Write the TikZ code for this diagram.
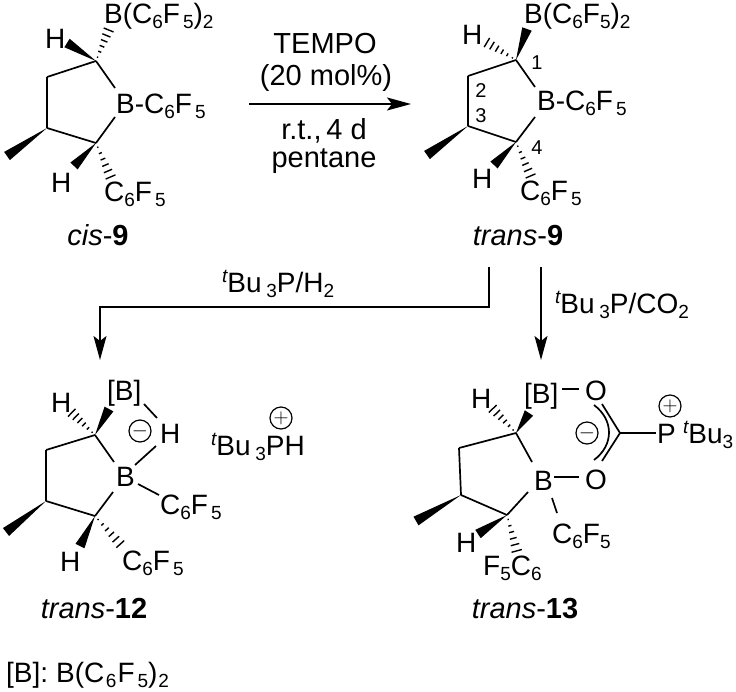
\documentclass[tikz,border=0pt]{standalone}
\usepackage{fontspec}
\setmainfont{Liberation Sans}
\usetikzlibrary{arrows.meta}
\usetikzlibrary{calc}

\newcommand{\lowtxt}[1]{\raisebox{-5.5pt}{\fontsize{19}{19}\selectfont #1}}
\newcommand{\Cpf}{C\lowtxt{6}F\kern3pt\lowtxt{5}}
\newcommand{\tBu}{\raisebox{10pt}{\fontsize{19}{19}\selectfont\itshape t}Bu}
\newcommand{\wedgebond}[2]{\fill (#1) -- ($(#2)!5pt!90:(#1)$) -- ($(#2)!5pt!-90:(#1)$) -- cycle;}
\newcommand{\hashbond}[2]{\foreach \t [evaluate=\t as \w using \t*5.5] in {0.12,0.29,0.46,0.63,0.8,0.97}
	{\draw[hash] ($(#1)!\t!(#2)!\w pt!90:(#2)$) -- ($(#1)!\t!(#2)!\w pt!-90:(#2)$);}}

\begin{document}
\begin{tikzpicture}[x=1pt,y=-1pt,
		bond/.style={line width=1.7pt},
		hash/.style={line width=1.4pt},
		rxn/.style={line width=1.7pt,-{Stealth[length=24pt,width=13pt,inset=5pt]}},
		lab/.style={anchor=base west,inner sep=0pt,font=\fontsize{28}{28}\selectfont},
		mid/.style={anchor=base,inner sep=0pt,font=\fontsize{29}{29}\selectfont},
		num/.style={inner sep=0pt,font=\fontsize{20}{20}\selectfont},
		charge/.style={circle,draw,line width=1.2pt,minimum size=22pt,inner sep=0pt,font=\fontsize{20}{20}\selectfont}]
	\useasboundingbox (0,0) rectangle (736,691);

	% cis-9
	\coordinate (A1) at (96,61);
	\coordinate (A2) at (47,77);
	\coordinate (A3) at (47,128);
	\coordinate (A4) at (96,143);
	\coordinate (Ab1) at (115,88);
	\coordinate (Ab2) at (115,117);
	\coordinate (Ah1) at (67,43);
	\coordinate (Ah2) at (74,166);
	\coordinate (Ame) at (7,156);
	\coordinate (Ax1) at (109,29);
	\coordinate (Ax2) at (111,178);

	% trans-9
	\coordinate (B1) at (516,60);
	\coordinate (B2) at (468,76);
	\coordinate (B3) at (468,126);
	\coordinate (B4) at (516,142);
	\coordinate (Bb1) at (535,87);
	\coordinate (Bb2) at (535,117);
	\coordinate (Bh1) at (486,42);
	\coordinate (Bh2) at (494,165);
	\coordinate (Bme) at (427,155);
	\coordinate (Bx1) at (527,29);
	\coordinate (Bx2) at (531,177);

	% trans-12
	\coordinate (C1) at (95,435);
	\coordinate (C2) at (46,450);
	\coordinate (C3) at (46,501);
	\coordinate (C4) at (95,516);
	\coordinate (Cb1) at (114,462);
	\coordinate (Cb2) at (113,492);
	\coordinate (Cb3) at (135,465);
	\coordinate (Cb4) at (156,446);
	\coordinate (Cb5) at (138,484);
	\coordinate (Cb6) at (159,495);
	\coordinate (Cb7) at (144,404);
	\coordinate (Cb8) at (157,418);
	\coordinate (Ch1) at (71,412);
	\coordinate (Ch2) at (80,546);
	\coordinate (Cme) at (6,532);
	\coordinate (Cx1) at (109,409);
	\coordinate (Cx2) at (121,545);

	% trans-13
	\coordinate (D1) at (516,433);
	\coordinate (D2) at (459,448);
	\coordinate (D3) at (461,495);
	\coordinate (D4) at (507,515);
	\coordinate (Db1) at (532,462);
	\coordinate (Db2) at (528,492);
	\coordinate (Db3) at (554,477);
	\coordinate (Db4) at (579,477);
	\coordinate (Db5) at (552,498);
	\coordinate (Db6) at (557,513);
	\coordinate (Db7) at (562,389);
	\coordinate (Db8) at (579,389);
	\coordinate (Dc) at (620,433);
	\coordinate (Do1) at (602,404);
	\coordinate (Do2) at (602,461);
	\coordinate (Dp) at (656,433);
	\coordinate (Da1) at (594,405);
	\coordinate (Da2) at (594,460);
	\coordinate (Dm1) at (614,420);
	\coordinate (Dm2) at (614,445);
	\coordinate (Dh1) at (492,408);
	\coordinate (Dh2) at (478,534);
	\coordinate (Dme) at (416,521);
	\coordinate (Dx1) at (529,413);
	\coordinate (Dx2) at (517,552);

	% arrows
	\coordinate (R1) at (249,104);
	\coordinate (R2) at (411,104);
	\coordinate (R3) at (489,267);
	\coordinate (R4) at (489,307);
	\coordinate (R5) at (100,307);
	\coordinate (R6) at (100,360);
	\coordinate (R7) at (541,267);
	\coordinate (R8) at (541,360);

	% Draw the lines
	\foreach \a/\b in {A1/A2, A2/A3, A3/A4, A1/Ab1, A4/Ab2,
			B1/B2, B2/B3, B3/B4, B1/Bb1, B4/Bb2,
			C1/C2, C2/C3, C3/C4, C1/Cb1, C4/Cb2, Cb3/Cb4, Cb5/Cb6, Cb7/Cb8,
			D1/D2, D2/D3, D3/D4, D1/Db1, D4/Db2, Db3/Db4, Db5/Db6, Db7/Db8,
			Do1/Dc, Do2/Dc, Dc/Dp}
		\draw[bond] (\a) -- (\b);
	\draw[bond] (Da1) .. controls (Dm1) and (Dm2) .. (Da2);

	% wedges and hashes
	\foreach \a/\b in {A1/Ah1, A3/Ame, A4/Ah2, B1/Bx1, B3/Bme, B4/Bh2,
			C1/Cx1, C3/Cme, C4/Ch2, D1/Dx1, D3/Dme, D4/Dh2}
		{\wedgebond{\a}{\b}}
	\foreach \a/\b in {A1/Ax1, A4/Ax2, B1/Bh1, B4/Bx2, C1/Ch1, C4/Cx2, D1/Dh1, D4/Dx2}
		{\hashbond{\a}{\b}}

	\draw[rxn] (R1) -- (R2);
	\draw[rxn] (R3) -- (R4) -- (R5) -- (R6);
	\draw[rxn] (R7) -- (R8);

	% cis-9 labels
	\node[lab] (aboryl) at (104,23) {B(\Cpf)\lowtxt{2}};
	\node[lab] (ah1) at (45,48) {H};
	\node[lab] (aring) at (116,113) {B-\Cpf};
	\node[lab] (ah2) at (51,192) {H};
	\node[lab] (apf) at (104,201) {\Cpf};
	\node[mid] (aname) at (98,245) {\textit{cis}-\textbf{9}};

	% trans-9 labels
	\node[lab] (bboryl) at (524,23) {B(C\lowtxt{6}F\lowtxt{5})\lowtxt{2}};
	\node[lab] (bh1) at (462,44) {H};
	\node[lab] (bring) at (537,110) {B-\Cpf};
	\node[lab] (bh2) at (472,188) {H};
	\node[lab] (bpf) at (520,200) {\Cpf};
	\node[mid] (bname) at (518,245) {\textit{trans}-\textbf{9}};
	\node[num] (one) at (537,63) {1};
	\node[num] (two) at (481,91) {2};
	\node[num] (three) at (481,116) {3};
	\node[num] (four) at (537,148) {4};

	% conditions
	\node[mid] (tempo) at (325,53) {TEMPO};
	\node[mid] (load) at (326,85) {(20 mol\%)};
	\node[mid] (temp) at (324,139) {r.t.,\,4 d};
	\node[mid] (solv) at (324,167) {pentane};
	\node[lab] (hydro) at (222,292) {\tBu\,\lowtxt{3}P/H\lowtxt{2}};
	\node[lab] (carbo) at (555,313) {\tBu\,\lowtxt{3}P/CO\lowtxt{2}};

	% trans-12 labels
	\node[lab] (cbr) at (107,400) {[B]};
	\node[lab] (ch1) at (51,412) {H};
	\node[lab] (chyd) at (160,443) {H};
	\node[lab] (cb) at (116,486) {B};
	\node[lab] (cpf1) at (160,514) {\Cpf};
	\node[lab] (cpf2) at (122,570) {\Cpf};
	\node[lab] (ch2) at (60,571) {H};
	\node[charge] (cminus) at (140,431) {$-$};
	\node[charge] (cplus) at (281,418) {$+$};
	\node[lab] (cation) at (211,455) {\tBu\,\lowtxt{3}PH};
	\node[mid] (cname) at (94,618) {\textit{trans}-\textbf{12}};
	\node[lab] (legend) at (6,682) {[B]:\kern8pt B(C\kern1.5pt\lowtxt{6}\kern1pt F\kern3pt\lowtxt{5})\kern1pt\lowtxt{2}};

	% trans-13 labels
	\node[lab] (dh1) at (471,408) {H};
	\node[lab] (dbr) at (524,403) {[B]};
	\node[lab] (do1) at (585,400) {O};
	\node[lab] (db) at (534,490) {B};
	\node[lab] (do2) at (585,489) {O};
	\node[lab] (dpf1) at (552,543) {C\lowtxt{6}F\lowtxt{5}};
	\node[lab] (dh2) at (456,552) {H};
	\node[lab] (dpf2) at (483,575) {F\lowtxt{5}C\lowtxt{6}};
	\node[charge] (dminus) at (587,433) {$-$};
	\node[charge] (dplus) at (670,406) {$+$};
	\node[lab] (dp) at (657,443) {P};
	\node[lab] (dtbu) at (683,443) {\tBu\lowtxt{3}};
	\node[mid] (dname) at (525,618) {\textit{trans}-\textbf{13}};
\end{tikzpicture}
\end{document}
